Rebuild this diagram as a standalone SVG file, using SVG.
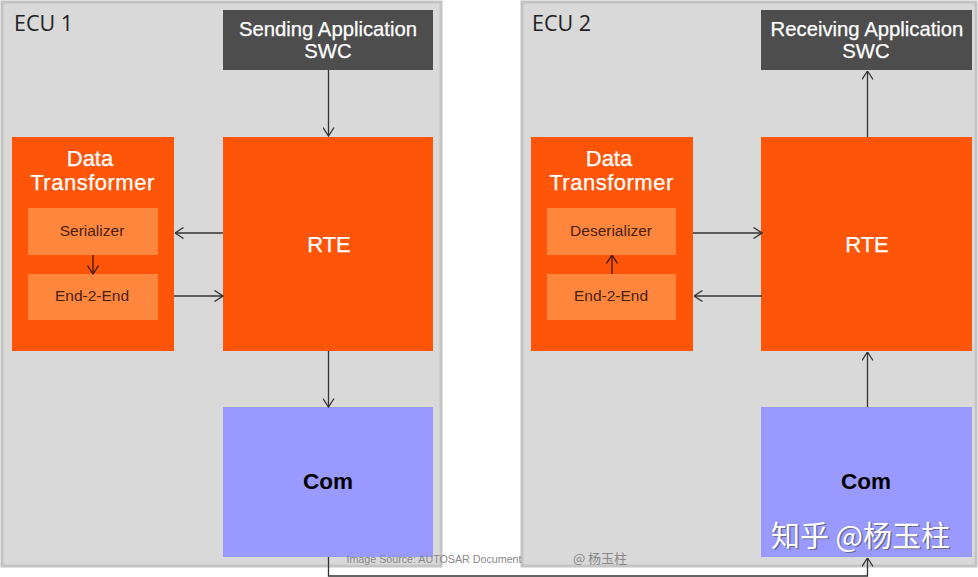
<svg xmlns="http://www.w3.org/2000/svg" width="978" height="577" viewBox="0 0 978 577">
<style>
text{font-family:"Liberation Sans",Arial,"Noto Sans CJK SC",sans-serif;text-anchor:middle}
.ecu{fill:#d9d9d9;stroke:#c4c4c4;stroke-width:3}
.dark{fill:#4d4d4d}.or{fill:#ff5508}.lo{fill:#ff873d}.bl{fill:#9999ff}
.w{fill:#fff;font-size:20.300px;font-weight:500;stroke:#fff;stroke-width:.25}
.t{fill:#fff;font-size:22px;stroke:#fff;stroke-width:.25}
.s{fill:#4a2010;font-size:15.500px}
.e{fill:#222;font-size:21.500px;text-anchor:start;font-family:"Open Sans","Liberation Sans",sans-serif}
.c{fill:#000;font-size:22.500px;font-weight:bold}
.con{fill:none;stroke:#333;stroke-width:1.3}
.in{fill:none;stroke:#401808;stroke-width:1.3}
.zh{font-family:"Noto Sans CJK SC",sans-serif}
</style>
<defs>
<marker id="a" viewBox="0 0 10 12" refX="9.500" refY="6" markerWidth="10" markerHeight="12" markerUnits="userSpaceOnUse" orient="auto"><path d="M1 0.500L9.500 6L1 11.500" fill="none" stroke="#333" stroke-width="1.300"/></marker>
<marker id="b" viewBox="0 0 10 12" refX="9.500" refY="6" markerWidth="10" markerHeight="12" markerUnits="userSpaceOnUse" orient="auto"><path d="M1 0.500L9.500 6L1 11.500" fill="none" stroke="#401808" stroke-width="1.300"/></marker>
</defs>
<rect width="978" height="577" fill="#fff"/>
<g id="ecu1"><rect class="ecu" x="2" y="2" width="439" height="564"/><text class="e" x="14" y="31">ECU 1</text></g>
<g id="ecu2"><rect class="ecu" x="522" y="2" width="454" height="564"/><text class="e" x="532" y="31">ECU 2</text></g>
<g id="send"><rect class="dark" x="223" y="10" width="210" height="60"/><text class="w" x="328" y="36">Sending Application</text><text class="w" x="328" y="58">SWC</text></g>
<g id="recv"><rect class="dark" x="761" y="10" width="211" height="60"/><text class="w" x="867" y="36">Receiving Application</text><text class="w" x="866" y="58">SWC</text></g>
<g id="dt1"><rect class="or" x="12" y="137" width="162" height="214"/><text class="t" x="90" y="166">Data</text><text class="t" x="92.500" y="190" letter-spacing=".5">Transformer</text></g>
<g id="dt2"><rect class="or" x="531" y="137" width="162" height="214"/><text class="t" x="609" y="166">Data</text><text class="t" x="611.500" y="190" letter-spacing=".5">Transformer</text></g>
<g id="ser"><rect class="lo" x="28" y="208" width="130" height="47"/><text class="s" x="92" y="236">Serializer</text></g>
<g id="e2e1"><rect class="lo" x="28" y="274" width="130" height="46"/><text class="s" x="92" y="301">End-2-End</text></g>
<g id="des"><rect class="lo" x="547" y="208" width="129" height="47"/><text class="s" x="611" y="236">Deserializer</text></g>
<g id="e2e2"><rect class="lo" x="547" y="274" width="129" height="46"/><text class="s" x="611" y="301">End-2-End</text></g>
<g id="rte1"><rect class="or" x="223" y="137" width="210" height="214"/><text class="t" x="329" y="252">RTE</text></g>
<g id="rte2"><rect class="or" x="761" y="137" width="211" height="214"/><text class="t" x="867" y="252">RTE</text></g>
<g id="com1"><rect class="bl" x="223" y="407" width="210" height="150"/><text class="c" x="328" y="489">Com</text></g>
<g id="com2"><rect class="bl" x="761" y="407" width="211" height="150"/><text class="c" x="866" y="489">Com</text></g>
<g id="connectors">
<path class="con" marker-end="url(#a)" d="M328.500 70V136"/>
<path class="con" marker-end="url(#a)" d="M867.500 137V71"/>
<path class="con" marker-end="url(#a)" d="M223 233H175"/>
<path class="con" marker-end="url(#a)" d="M174 296H223"/>
<path class="con" marker-end="url(#a)" d="M693 233H762"/>
<path class="con" marker-end="url(#a)" d="M762 296H694"/>
<path class="con" marker-end="url(#a)" d="M328.500 351V407"/>
<path class="con" marker-end="url(#a)" d="M867.500 407V352"/>
<path class="con" marker-end="url(#a)" d="M328.500 557V576H867.500V558"/>
<path class="in" marker-end="url(#b)" d="M93 255V274"/>
<path class="in" marker-end="url(#b)" d="M612 274V255"/>
</g>
<text x="434" y="563" font-size="10.700" fill="#888">Image Source: AUTOSAR Document</text>
<text class="zh" x="600" y="563" font-size="13" fill="#888">@ 杨玉柱</text>
<text class="zh" x="862" y="548" font-size="29" fill="#555" fill-opacity=".7">知乎 @杨玉柱</text>
<text class="zh" x="860.500" y="546.500" font-size="29" fill="#fff">知乎 @杨玉柱</text>
</svg>
